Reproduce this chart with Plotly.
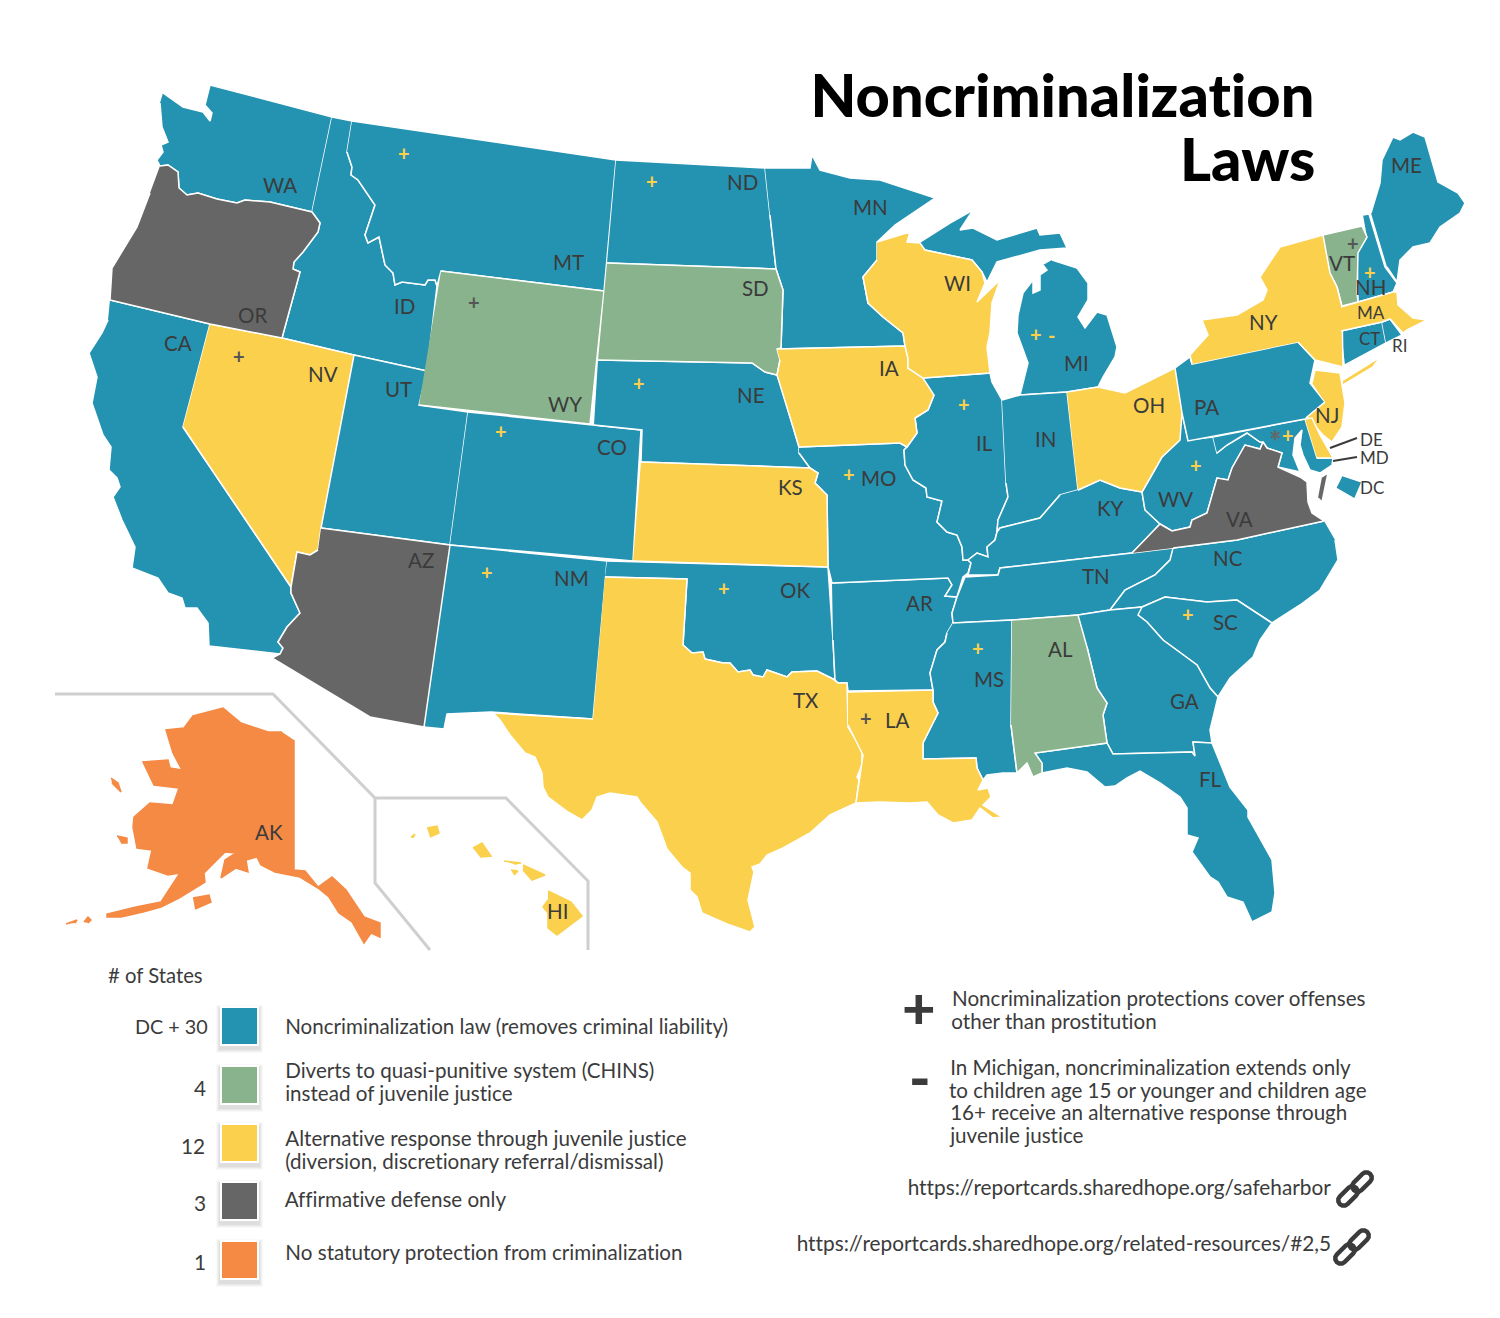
import math
import plotly.graph_objects as go

# ---------- state outlines (image pixels) ----------
WA = [(163,93),(183,107),(203,112),(210,121),(212,113),(205,105),(210,85),(332,117),(312,212),(270,202),(245,200),(237,203),(217,199),(198,193),(187,195),(179,188),(178,172),(168,165),(160,166),(157,160),(163,152),(161,145),(168,142),(162,127),(160,103)]
OR = [(160,166),(168,165),(178,172),(179,188),(187,195),(198,193),(217,199),(237,203),(245,200),(270,202),(312,212),(320,223),(318,232),(303,252),(294,262),(293,269),(300,272),(282,338),(210,324),(110,300),(112,268),(137,227),(150,193)]
CA = [(110,300),(210,324),(183,427),(291,587),(291,593),(300,613),(287,627),(278,642),(283,648),(280,654),(209,646),(208,623),(197,608),(185,608),(182,598),(168,593),(158,578),(132,568),(135,547),(122,520),(113,497),(120,487),(117,478),(109,470),(111,447),(103,435),(92,403),(97,377),(89,353),(102,333),(108,320)]
NV = [(210,324),(282,338),(354,355),(321,528),(318,550),(310,555),(297,552),(291,587),(183,427)]
ID = [(332,117),(352,121),(347,152),(352,167),(351,175),(358,180),(375,205),(365,235),(368,243),(379,237),(385,265),(393,273),(395,285),(402,282),(425,285),(428,280),(435,280),(437,286),(427,371),(354,355),(282,338),(300,272),(293,269),(294,262),(303,252),(318,232),(320,223),(312,212)]
MT = [(352,121),(616,160),(604,291),(441,271),(437,286),(435,280),(428,280),(425,285),(402,282),(395,285),(393,273),(385,265),(379,237),(368,243),(365,235),(375,205),(358,180),(351,175),(352,167),(347,152)]
WY = [(441,271),(604,291),(590,424),(419,405)]
UT = [(354,355),(427,371),(419,405),(468,412),(450,545),(321,528)]
AZ = [(321,528),(450,545),(424,727),(370,717),(272,658),(280,654),(283,648),(278,642),(287,627),(300,613),(291,593),(291,587),(297,552),(310,555),(318,550)]
CO = [(468,412),(641,430),(633,561),(450,545)]
NM = [(450,545),(607,561),(593,719),(491,712),(447,714),(444,729),(424,727)]
ND = [(616,160),(765,168),(770,215),(776,269),(607,263)]
SD = [(607,263),(776,269),(783,290),(781,348),(777,349),(780,360),(777,375),(765,372),(752,363),(598,360)]
NE = [(598,360),(752,363),(765,372),(777,375),(780,383),(793,427),(799,447),(799,453),(810,468),(641,462),(642,430),(594,425)]
KS = [(641,462),(810,468),(818,473),(815,483),(827,495),(828,567),(633,561)]
OK = [(607,561),(828,567),(833,640),(835,680),(833,679),(817,671),(792,672),(787,677),(767,670),(763,677),(753,675),(750,670),(738,672),(730,663),(723,663),(705,659),(703,652),(692,653),(683,645),(687,579),(605,577)]
TX = [(605,577),(687,579),(683,645),(692,653),(703,652),(705,659),(723,663),(730,663),(738,672),(750,670),(753,675),(763,677),(767,670),(787,677),(792,672),(817,671),(833,679),(838,683),(847,683),(848,727),(862,750),(862,765),(857,777),(859,780),(856,803),(830,815),(810,833),(783,848),(767,855),(760,864),(752,867),(754,872),(748,900),(755,927),(750,932),(727,924),(702,913),(697,897),(690,890),(690,873),(682,867),(667,849),(657,822),(640,802),(637,797),(610,793),(597,797),(592,810),(582,820),(568,812),(548,797),(543,787),(542,773),(535,757),(525,753),(510,735),(500,720),(493,713),(593,719)]
LA = [(848,692),(933,690),(933,702),(938,713),(923,743),(923,759),(976,758),(977,768),(983,780),(978,790),(988,788),(991,797),(983,805),(1002,817),(993,818),(980,808),(972,820),(953,823),(938,815),(927,802),(910,803),(880,802),(856,803),(860,775),(863,755),(848,725)]
AR = [(832,583),(948,578),(952,585),(945,596),(957,597),(952,613),(953,623),(947,633),(945,642),(937,650),(932,667),(930,673),(933,690),(848,691),(847,683),(838,683),(835,680),(833,640)]
MO = [(799,447),(900,443),(907,447),(904,450),(905,465),(913,480),(926,488),(927,497),(942,501),(937,522),(947,532),(957,535),(962,547),(963,560),(968,560),(971,563),(968,573),(963,577),(957,597),(945,596),(952,585),(948,578),(832,583),(828,567),(827,495),(815,483),(818,473),(810,468),(799,453)]
IA = [(777,349),(905,346),(908,358),(908,368),(923,378),(934,395),(928,410),(915,418),(917,433),(907,447),(900,443),(799,447),(793,427),(780,383),(777,375),(780,360)]
MN = [(765,168),(810,168),(812,155),(820,170),(850,178),(880,180),(935,198),(895,225),(877,242),(877,260),(863,277),(868,303),(883,317),(903,333),(905,346),(777,349),(781,348),(783,290),(776,269),(770,215)]
WI = [(877,242),(910,232),(907,242),(920,243),(925,250),(972,260),(982,272),(985,283),(977,302),(1000,280),(992,303),(990,333),(987,347),(990,373),(923,378),(908,368),(908,358),(905,346),(903,333),(883,317),(868,303),(863,277),(877,260)]
MI = [(920,242),(950,223),(973,210),(960,230),(973,228),(997,240),(1037,228),(1040,235),(1060,233),(1067,248),(1040,250),(1013,258),(997,262),(987,282),(982,272),(972,260),(925,250),None,
      (1052,260),(1077,268),(1088,283),(1088,300),(1078,317),(1085,328),(1097,312),(1107,315),(1117,347),(1115,357),(1103,377),(1098,387),(1067,392),(1020,395),(1028,363),(1017,333),(1018,315),(1023,293),(1033,280),(1033,293),(1040,290),(1040,275),(1047,270),(1043,265)]
IL = [(923,378),(990,373),(992,382),(1002,400),(1006,483),(1008,497),(998,520),(997,532),(995,540),(987,547),(988,557),(977,553),(968,560),(963,560),(962,547),(957,535),(947,532),(937,522),(942,501),(927,497),(926,488),(913,480),(905,465),(904,450),(907,447),(917,433),(915,418),(928,410),(934,395)]
IN = [(1002,400),(1020,395),(1067,392),(1078,490),(1060,495),(1040,518),(1000,528),(997,532),(998,520),(1008,497),(1006,483)]
OH = [(1067,392),(1098,387),(1125,393),(1175,368),(1182,413),(1180,440),(1162,457),(1153,473),(1142,492),(1120,488),(1100,480),(1078,490)]
KY = [(1078,490),(1100,480),(1120,488),(1142,492),(1145,510),(1160,524),(1143,542),(1132,553),(1000,568),(998,575),(968,575),(971,563),(968,560),(977,553),(988,557),(987,547),(995,540),(997,532),(1000,528),(1040,518),(1060,495)]
TN = [(1173,548),(1132,553),(1000,568),(998,575),(965,577),(957,597),(952,613),(953,623),(1012,620),(1078,615),(1110,610),(1125,590),(1155,575),(1170,560)]
NC = [(1324,521),(1237,540),(1173,548),(1170,560),(1155,575),(1125,590),(1110,610),(1142,607),(1165,597),(1207,602),(1237,600),(1272,623),(1300,605),(1320,590),(1338,560),(1335,540)]
SC = [(1142,607),(1165,597),(1207,602),(1237,600),(1272,623),(1260,640),(1253,657),(1230,678),(1218,697),(1210,688),(1197,665),(1163,640),(1147,622),(1138,615)]
GA = [(1078,615),(1110,610),(1142,607),(1138,615),(1147,622),(1163,640),(1197,665),(1210,688),(1218,697),(1210,730),(1212,743),(1193,742),(1195,756),(1192,752),(1113,754),(1107,743),(1103,715),(1107,703),(1097,688),(1087,647)]
AL = [(1012,620),(1078,615),(1087,647),(1097,688),(1107,703),(1103,715),(1107,743),(1035,753),(1042,763),(1042,773),(1033,777),(1027,763),(1017,773),(1011,725)]
MS = [(953,623),(1012,620),(1011,725),(1017,773),(1003,773),(987,775),(983,780),(977,768),(976,758),(923,759),(923,743),(938,713),(933,702),(933,690),(930,673),(932,667),(937,650),(945,642),(947,633)]
FL = [(1035,753),(1107,743),(1113,754),(1192,752),(1195,756),(1193,742),(1212,743),(1220,763),(1230,787),(1248,810),(1248,817),(1272,860),(1275,893),(1272,912),(1252,922),(1243,902),(1227,897),(1218,882),(1210,877),(1192,852),(1198,838),(1187,835),(1187,808),(1180,797),(1160,783),(1140,771),(1127,778),(1115,786),(1105,787),(1087,772),(1067,768),(1042,773),(1042,763)]
VA = [(1132,553),(1143,542),(1160,524),(1172,531),(1190,527),(1192,520),(1207,513),(1217,478),(1228,480),(1232,468),(1245,445),(1260,449),(1263,442),(1267,448),(1282,453),(1278,467),(1300,477),(1307,482),(1308,502),(1312,513),(1324,521),(1237,540),(1173,548),None,
      (1322,477),(1328,473),(1322,502),(1318,498)]
WV = [(1182,413),(1188,440),(1213,437),(1217,453),(1227,445),(1247,433),(1260,442),(1263,442),(1260,449),(1245,445),(1232,468),(1228,480),(1217,478),(1207,513),(1192,520),(1190,527),(1172,531),(1160,524),(1145,510),(1142,492),(1153,473),(1162,457),(1180,440)]
MD = [(1213,437),(1305,419),(1317,458),(1333,458),(1332,465),(1320,473),(1310,470),(1303,455),(1300,445),(1302,430),(1295,438),(1293,455),(1300,472),(1278,467),(1282,453),(1267,448),(1263,442),(1260,442),(1247,433),(1227,445),(1217,453)]
DE = [(1305,419),(1312,418),(1320,435),(1333,458),(1317,458)]
NJ = [(1312,383),(1315,370),(1340,373),(1342,385),(1345,403),(1342,427),(1332,442),(1323,435),(1307,417),(1325,402)]
PA = [(1175,368),(1190,357),(1192,364),(1298,342),(1315,360),(1310,383),(1325,402),(1305,419),(1188,441),(1182,413)]
NY = [(1192,364),(1190,355),(1208,335),(1202,320),(1237,315),(1263,300),(1267,290),(1260,277),(1280,247),(1323,235),(1330,273),(1337,287),(1342,307),(1343,367),(1315,360),(1298,342),None,
      (1343,380),(1380,357),(1373,367),(1343,385)]
VT = [(1323,235),(1362,226),(1367,237),(1358,253),(1357,293),(1358,302),(1342,306),(1337,287),(1330,273)]
NH = [(1363,215),(1369,214),(1385,267),(1397,283),(1393,292),(1358,302),(1357,253),(1367,237)]
ME = [(1371,213),(1380,183),(1382,160),(1393,137),(1400,140),(1413,132),(1425,137),(1438,182),(1458,193),(1465,203),(1460,213),(1440,227),(1430,243),(1413,247),(1400,260),(1397,282),(1387,267)]
MA = [(1341,307),(1393,292),(1397,292),(1398,305),(1413,318),(1427,320),(1407,330),(1403,333),(1390,319),(1382,322),(1341,331)]
CT = [(1341,331),(1382,322),(1386,343),(1345,365)]
RI = [(1382,322),(1390,319),(1402,335),(1386,343)]
DC = [(1342,477),(1360,483),(1354,497),(1337,487)]
AK = [(294,740),(294,870),(305,871),(318,887),(332,877),(346,890),(364,917),(380,923),(380,937),(371,933),(364,943),(352,922),(339,913),(329,897),(318,888),(300,877),(275,872),(261,865),(257,857),(246,860),(248,872),(236,868),(221,878),(225,860),(236,853),(225,852),(204,873),(205,882),(179,898),(161,907),(143,912),(121,917),(107,917),(107,914),(136,907),(161,902),(180,873),(168,875),(148,868),(152,850),(137,848),(133,827),(134,817),(150,803),(173,805),(179,788),(154,785),(148,773),(143,762),(168,760),(170,768),(182,770),(173,753),(166,730),(184,728),(193,716),(223,708),(241,723),(268,732),(282,732),None,
      (193,898),(209,895),(211,902),(195,909),None,(111,778),(118,783),(121,792),(112,783),None,(117,836),(127,838),(127,843),(121,843),None,(66,924),(77,920),(75,923),None,(84,922),(88,917),(91,920),(88,923)]
HI = [(548,891),(571,902),(582,916),(557,935),(548,928),(548,913),(543,907),(548,900),None,(523,865),(545,875),(532,880),(523,870),None,(504,861),(521,863),(514,864),None,(511,870),(518,871),(514,875),None,(473,848),(482,843),(491,856),(480,857),None,(427,828),(437,826),(439,833),(430,837),None,(411,837),(415,834),(413,838)]

OUTLINES = dict(WA=WA,OR=OR,CA=CA,NV=NV,ID=ID,MT=MT,WY=WY,UT=UT,AZ=AZ,CO=CO,NM=NM,ND=ND,SD=SD,NE=NE,KS=KS,OK=OK,TX=TX,LA=LA,AR=AR,MO=MO,IA=IA,MN=MN,WI=WI,MI=MI,IL=IL,IN=IN,OH=OH,KY=KY,TN=TN,NC=NC,SC=SC,GA=GA,AL=AL,MS=MS,FL=FL,VA=VA,WV=WV,MD=MD,DE=DE,NJ=NJ,PA=PA,NY=NY,VT=VT,NH=NH,ME=ME,MA=MA,CT=CT,RI=RI,DC=DC,AK=AK,HI=HI)

# ---------- categories ----------
CATEGORY_STATES = [
    ["WA","CA","ID","MT","UT","CO","NM","ND","NE","OK","AR","MO","MN","MI","IL","IN","KY","TN","NC","SC","GA","MS","FL","WV","MD","PA","NH","ME","CT","RI","DC"],
    ["WY","SD","VT","AL"],
    ["NV","TX","KS","IA","WI","OH","NY","NJ","MA","LA","DE","HI"],
    ["OR","AZ","VA"],
    ["AK"],
]
CATEGORY_COLORS = ["#2492b1", "#88b38c", "#fad04d", "#666666", "#f58a45"]
COUNT_LABELS = ["DC + 30", "4", "12", "3", "1"]

# ---------- labels ----------
LABEL_TEXT = ["WA","OR","CA","NV","ID","MT","WY","UT","AZ","CO","NM","ND","SD","NE","KS","OK","TX","MN","IA","MO","AR","LA","WI","IL","MI","IN","OH","KY","TN","MS","AL","GA","FL","SC","NC","VA","WV","PA","NY","ME","VT","NH","MA","CT","RI","NJ","DE","MD","DC","AK","HI"]
LABEL_X = [280,252,178,323,404,568,565,398,421,612,571,742,755,751,790,795,806,870,889,878,919,897,957,984,1076,1045,1149,1110,1096,989,1060,1184,1210,1225,1228,1239,1175,1206,1263,1406,1342,1370,1371,1369,1399,1327,1371,1374,1372,269,557]
LABEL_Y = [185,315,343,374,306,262,404,389,560,447,578,182,288,395,487,590,700,207,368,478,603,720,283,443,363,439,405,508,576,679,649,701,779,622,558,519,499,407,322,165,263,287,312,338,345,415,439,457,487,832,911]

PLUS_YELLOW_X = [404,652,639,501,487,724,849,964,1036,978,1188,1196,1288,1370]
PLUS_YELLOW_Y = [153,181,383,431,572,588,474,404,334,648,614,465,435,272]
PLUS_GRAY_X = [239,474,866,1353]
PLUS_GRAY_Y = [356,302,718,243]

# ---------- text lines ----------
LEGEND_LINES = ["Noncriminalization law (removes criminal liability)","Diverts to quasi-punitive system (CHINS)","instead of juvenile justice","Alternative response through juvenile justice","(diversion, discretionary referral/dismissal)","Affirmative defense only","No statutory protection from criminalization"]
LEGEND_LINE_Y = [1026,1070,1093,1138,1161,1199,1252]
COUNT_RIGHT = [209,207,206,207,207]
COUNT_Y = [1026,1087,1145,1202,1261]
SWATCH_TOP = [1008,1067,1125,1183,1242]
NOTE_LINES = ["Noncriminalization protections cover offenses","other than prostitution","In Michigan, noncriminalization extends only","to children age 15 or younger and children age","16+ receive an alternative response through","juvenile justice"]
NOTE_X = [951,950,949,948,949,948]
NOTE_Y = [998,1021,1067,1090,1112,1135]
URLS = ["https://reportcards.sharedhope.org/safeharbor","https://reportcards.sharedhope.org/related-resources/#2,5"]
URL_Y = [1186,1242]
CHAIN_CENTER = [(1355,1189),(1352,1247)]

INK = "#3b3b3b"
fig = go.Figure()

def xy(points):
    return [p[0] if p else None for p in points], [p[1] if p else None for p in points]

# inset frames
fig.add_trace(go.Scatter(x=[55,273,375,506,588,588,None,375,375,430], y=[694,694,798,798,881,950,None,798,883,950], mode="lines", line=dict(color="#cfcfcf", width=3), hoverinfo="skip"))

for states, color in zip(CATEGORY_STATES, CATEGORY_COLORS):
    for s in states:
        xs, ys = xy(OUTLINES[s])
        fig.add_trace(go.Scatter(x=xs, y=ys, mode="lines", fill="toself", fillcolor=color, line=dict(color="white" if s not in ("AK","HI","DC") else color, width=1.5), name=s, hoverinfo="skip"))

# DE / MD leader lines
fig.add_trace(go.Scatter(x=[1330,1357,None,1333,1357], y=[448,438,None,461,457], mode="lines", line=dict(color=INK, width=2), hoverinfo="skip"))

shapes = []
# legend swatches with soft shadow
for top, color in zip(SWATCH_TOP, CATEGORY_COLORS):
    for grow, op in [(4,0.025),(3,0.03),(2,0.035),(1,0.04)]:
        shapes.append(dict(type="rect", x0=220-grow, x1=259+grow, y0=top-2-grow+3, y1=top+38+grow+3, fillcolor=f"rgba(0,0,0,{op})", line_width=0, layer="below"))
    shapes.append(dict(type="rect", x0=220, x1=259, y0=top-2, y1=top+38, fillcolor="white", line_width=0))
    shapes.append(dict(type="rect", x0=222, x1=257, y0=top, y1=top+36, fillcolor=color, line_width=0))

def link(cx, cy, length=23, width=11, angle=-45):
    a = math.radians(angle)
    ca, sa = math.cos(a), math.sin(a)
    pts = []
    half = length/2 - width/2
    r = width/2
    for c, start in ((half, -90), (-half, 90)):
        for d in range(0, 181, 30):
            t = math.radians(start + d)
            px, py = c + r*math.cos(t), r*math.sin(t)
            pts.append((cx + px*ca - py*sa, cy + px*sa + py*ca))
    return "M " + " L ".join(f"{x:.1f},{y:.1f}" for x, y in pts) + " Z"

for cx, cy in CHAIN_CENTER:
    for dx, dy in [(7,-7),(-7,7)]:
        shapes.append(dict(type="path", path=link(cx+dx, cy+dy), line=dict(color=INK, width=4.5), fillcolor="rgba(0,0,0,0)"))

ann = []
def text(x, y, t, size, anchor="center", color=INK, weight=400):
    ann.append(dict(x=x, y=y, xref="x", yref="y", text=t, showarrow=False, xanchor=anchor, yanchor="middle", borderpad=0, font=dict(family="Lato", size=size, color=color, weight=weight)))

for t, x, y in zip(LABEL_TEXT, LABEL_X, LABEL_Y):
    small = t in ("MA","CT","RI","DE","MD","DC")
    text(x, y, t, 17 if small else 20.5)
for x, y in zip(PLUS_YELLOW_X, PLUS_YELLOW_Y):
    text(x, y, "+", 20, color="#fad04d", weight=700)
for x, y in zip(PLUS_GRAY_X, PLUS_GRAY_Y):
    text(x, y, "+", 20, color="#555555", weight=700)
text(1051, 335, "-", 20, color="#fad04d", weight=700)
text(1275, 441, "*", 30, color="#666666", weight=700)

text(1316, 94, "Noncriminalization", 59.5, "right", "#000000", 900)
text(1316, 158, "Laws", 59.5, "right", "#000000", 900)
text(107, 975, "# of States", 20.3, "left")
for t, x, y in zip(COUNT_LABELS, COUNT_RIGHT, COUNT_Y):
    text(x, y, t, 19.8 if t.startswith("DC") else 20.8, "right")
for t, y in zip(LEGEND_LINES, LEGEND_LINE_Y):
    text(284, y, t, 20.6, "left")
for t, x, y in zip(NOTE_LINES, NOTE_X, NOTE_Y):
    text(x, y, t, 20.6, "left")
for t, y in zip(URLS, URL_Y):
    text(1332, y, t, 20.8, "right")
text(919, 1006, "+", 58, color=INK, weight=900)
text(920, 1076, "-", 58, color=INK, weight=900)

fig.update_layout(width=1500, height=1318, margin=dict(l=0,r=0,t=0,b=0), paper_bgcolor="white", plot_bgcolor="white", showlegend=False,
    xaxis=dict(range=[0,1500], visible=False, fixedrange=True), yaxis=dict(range=[1318,0], visible=False, fixedrange=True),
    shapes=shapes, annotations=ann, hovermode=False)
post = ("document.body.style.margin='0';document.documentElement.style.overflow='hidden';"
        "var st=document.createElement('style');st.textContent='text{font-variant-ligatures:none;font-feature-settings:\"liga\" 0,\"clig\" 0,\"calt\" 0,\"dlig\" 0;}';document.head.appendChild(st);"
        "Plotly.redraw(document.getElementById('{plot_id}'));")
fig.write_html("out.html", config=dict(displayModeBar=False), post_script=post)
